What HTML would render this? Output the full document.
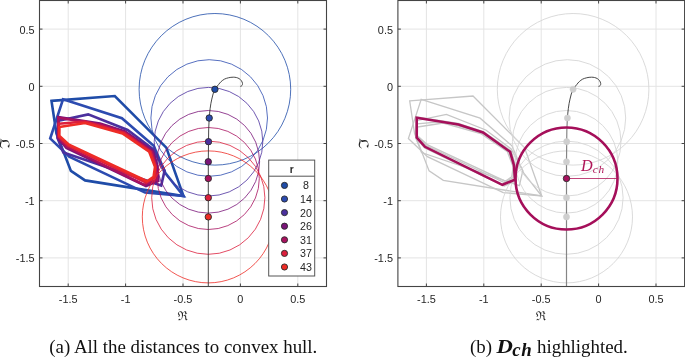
<!DOCTYPE html>
<html lang="en"><head><meta charset="utf-8"><title>Distances to convex hull</title>
<style>
html,body{margin:0;padding:0;background:#fff;}
body{width:685px;height:359px;overflow:hidden;}
svg{display:block;}
.tick{font-family:"Liberation Sans",Arial,sans-serif;font-size:10px;fill:#262626;}
.cap{font-family:"Liberation Serif","Times New Roman",serif;font-size:18.9px;fill:#111;}
.frak2{font-family:"DejaVu Math TeX Gyre","DejaVu Serif",serif;font-size:12px;fill:#222;}
.frak{font-family:"DejaVu Math TeX Gyre","DejaVu Serif",serif;font-size:11px;fill:#262626;}
</style></head><body>
<svg width="685" height="359" viewBox="0 0 685 359">
<rect x="0" y="0" width="685" height="359" fill="#fff"/>
<defs>
<clipPath id="cl"><rect x="39.5" y="0" width="287" height="286.5"/></clipPath>
<clipPath id="cr"><rect x="397.9" y="0" width="286.7" height="286.5"/></clipPath>
</defs>
<!-- left panel -->
<line x1="68.2" y1="0.5" x2="68.2" y2="286.5" stroke="#e4e4e4" stroke-width="1"/>
<line x1="125.6" y1="0.5" x2="125.6" y2="286.5" stroke="#e4e4e4" stroke-width="1"/>
<line x1="183.0" y1="0.5" x2="183.0" y2="286.5" stroke="#e4e4e4" stroke-width="1"/>
<line x1="240.4" y1="0.5" x2="240.4" y2="286.5" stroke="#e4e4e4" stroke-width="1"/>
<line x1="297.8" y1="0.5" x2="297.8" y2="286.5" stroke="#e4e4e4" stroke-width="1"/>
<line x1="39.5" y1="29.1" x2="326.5" y2="29.1" stroke="#e4e4e4" stroke-width="1"/>
<line x1="39.5" y1="86.3" x2="326.5" y2="86.3" stroke="#e4e4e4" stroke-width="1"/>
<line x1="39.5" y1="143.5" x2="326.5" y2="143.5" stroke="#e4e4e4" stroke-width="1"/>
<line x1="39.5" y1="200.7" x2="326.5" y2="200.7" stroke="#e4e4e4" stroke-width="1"/>
<line x1="39.5" y1="257.9" x2="326.5" y2="257.9" stroke="#e4e4e4" stroke-width="1"/>
<g clip-path="url(#cl)" fill="none">
<polygon points="51.5,100.9 114.8,96.0 166.3,147.6 183.5,196.0 85.1,180.4 70.9,170.9 62.8,150.0 56.4,133.5" stroke="#1F4CA8" stroke-width="2.6" stroke-linejoin="miter"/>
<polygon points="63.0,99.3 121.9,118.2 153.7,145.8 165.4,173.0 183.5,196.0 145.0,192.6 69.2,156.7 50.2,138.5" stroke="#2C4BB0" stroke-width="2.6" stroke-linejoin="miter"/>
<polygon points="58.5,120.7 88.2,114.4 127.6,130.0 153.0,149.0 164.6,170.6 161.2,185.6 63.3,152.5 57.5,138.0" stroke="#4B309E" stroke-width="2.6" stroke-linejoin="miter"/>
<polygon points="58.2,117.0 100.0,123.5 125.0,131.5 153.0,151.0 157.5,166.0 158.3,180.8 146.0,186.0 66.4,148.0 58.0,138.0" stroke="#7A1478" stroke-width="2.6" stroke-linejoin="miter"/>
<polygon points="58.5,117.8 100.3,124.4 124.8,132.5 151.9,151.8 155.7,165.0 156.8,179.6 144.2,184.8 66.8,146.8 58.5,137.5" stroke="#A8125F" stroke-width="2.6" stroke-linejoin="miter"/>
<polygon points="58.8,123.8 85.0,121.5 124.0,133.0 150.5,151.8 155.5,166.0 155.0,177.5 146.0,182.5 68.0,145.5 59.0,136.5" stroke="#DC1E3C" stroke-width="2.6" stroke-linejoin="miter"/>
<polygon points="59.4,127.0 85.0,123.0 122.5,133.5 149.2,151.8 155.0,166.9 153.6,176.7 147.0,181.2 69.0,144.6 59.2,135.7" stroke="#EE2C26" stroke-width="2.6" stroke-linejoin="miter"/>
<circle cx="214.9" cy="89.3" r="75.8" stroke="#1F4CA8" stroke-width="0.8"/>
<circle cx="209.2" cy="118.0" r="58.3" stroke="#2C4BB0" stroke-width="0.8"/>
<circle cx="208.5" cy="141.7" r="54.3" stroke="#4B309E" stroke-width="0.8"/>
<circle cx="208.3" cy="161.8" r="51.3" stroke="#7A1478" stroke-width="0.8"/>
<circle cx="208.3" cy="178.5" r="51.0" stroke="#A8125F" stroke-width="0.8"/>
<circle cx="208.3" cy="197.7" r="56.6" stroke="#DC1E3C" stroke-width="0.8"/>
<circle cx="208.3" cy="216.9" r="66.0" stroke="#EE2C26" stroke-width="0.8"/>
<path d="M240.3 86.4 C241.8 86.2 242.7 85.0 242.5 83.5 C242.2 81.5 241.0 79.8 239.1 78.6 C237.4 77.6 235.4 77.2 233.3 77.2 C230.0 77.2 227.0 78.0 224.5 79.1 C222.0 80.5 220.0 82.5 218.6 84.5 C217.2 86.0 216.0 87.6 214.9 89.3 C213.4 92.3 212.6 95.5 211.8 99.1 C210.4 105.0 209.7 111.5 209.2 118.0 C208.7 126.0 208.5 134.0 208.5 141.7 L208.3 161.8 L208.3 286.5" stroke="#333" stroke-width="0.9"/>
<circle cx="214.9" cy="89.3" r="3.2" fill="#1F4CA8" stroke="#2a2a2a" stroke-width="0.9"/>
<circle cx="209.2" cy="118.0" r="3.2" fill="#2C4BB0" stroke="#2a2a2a" stroke-width="0.9"/>
<circle cx="208.5" cy="141.7" r="3.2" fill="#4B309E" stroke="#2a2a2a" stroke-width="0.9"/>
<circle cx="208.3" cy="161.8" r="3.2" fill="#7A1478" stroke="#2a2a2a" stroke-width="0.9"/>
<circle cx="208.3" cy="178.5" r="3.2" fill="#A8125F" stroke="#2a2a2a" stroke-width="0.9"/>
<circle cx="208.3" cy="197.7" r="3.2" fill="#DC1E3C" stroke="#2a2a2a" stroke-width="0.9"/>
<circle cx="208.3" cy="216.9" r="3.2" fill="#EE2C26" stroke="#2a2a2a" stroke-width="0.9"/>
</g>
<rect x="39.5" y="0.5" width="287.0" height="286.0" fill="none" stroke="#444" stroke-width="1.1"/>
<line x1="68.2" y1="286.5" x2="68.2" y2="283.5" stroke="#444" stroke-width="1"/>
<line x1="68.2" y1="0.5" x2="68.2" y2="3.5" stroke="#444" stroke-width="1"/>
<text class="tick" transform="translate(68.2,303.2) scale(1.09,1)" text-anchor="middle">-1.5</text>
<line x1="125.6" y1="286.5" x2="125.6" y2="283.5" stroke="#444" stroke-width="1"/>
<line x1="125.6" y1="0.5" x2="125.6" y2="3.5" stroke="#444" stroke-width="1"/>
<text class="tick" transform="translate(125.6,303.2) scale(1.09,1)" text-anchor="middle">-1</text>
<line x1="183.0" y1="286.5" x2="183.0" y2="283.5" stroke="#444" stroke-width="1"/>
<line x1="183.0" y1="0.5" x2="183.0" y2="3.5" stroke="#444" stroke-width="1"/>
<text class="tick" transform="translate(183.0,303.2) scale(1.09,1)" text-anchor="middle">-0.5</text>
<line x1="240.4" y1="286.5" x2="240.4" y2="283.5" stroke="#444" stroke-width="1"/>
<line x1="240.4" y1="0.5" x2="240.4" y2="3.5" stroke="#444" stroke-width="1"/>
<text class="tick" transform="translate(240.4,303.2) scale(1.09,1)" text-anchor="middle">0</text>
<line x1="297.8" y1="286.5" x2="297.8" y2="283.5" stroke="#444" stroke-width="1"/>
<line x1="297.8" y1="0.5" x2="297.8" y2="3.5" stroke="#444" stroke-width="1"/>
<text class="tick" transform="translate(297.8,303.2) scale(1.09,1)" text-anchor="middle">0.5</text>
<line x1="39.5" y1="29.1" x2="42.5" y2="29.1" stroke="#444" stroke-width="1"/>
<line x1="326.5" y1="29.1" x2="323.5" y2="29.1" stroke="#444" stroke-width="1"/>
<text class="tick" transform="translate(34.6,33.6) scale(1.09,1)" text-anchor="end">0.5</text>
<line x1="39.5" y1="86.3" x2="42.5" y2="86.3" stroke="#444" stroke-width="1"/>
<line x1="326.5" y1="86.3" x2="323.5" y2="86.3" stroke="#444" stroke-width="1"/>
<text class="tick" transform="translate(34.6,90.8) scale(1.09,1)" text-anchor="end">0</text>
<line x1="39.5" y1="143.5" x2="42.5" y2="143.5" stroke="#444" stroke-width="1"/>
<line x1="326.5" y1="143.5" x2="323.5" y2="143.5" stroke="#444" stroke-width="1"/>
<text class="tick" transform="translate(34.6,148.0) scale(1.09,1)" text-anchor="end">-0.5</text>
<line x1="39.5" y1="200.7" x2="42.5" y2="200.7" stroke="#444" stroke-width="1"/>
<line x1="326.5" y1="200.7" x2="323.5" y2="200.7" stroke="#444" stroke-width="1"/>
<text class="tick" transform="translate(34.6,205.2) scale(1.09,1)" text-anchor="end">-1</text>
<line x1="39.5" y1="257.9" x2="42.5" y2="257.9" stroke="#444" stroke-width="1"/>
<line x1="326.5" y1="257.9" x2="323.5" y2="257.9" stroke="#444" stroke-width="1"/>
<text class="tick" transform="translate(34.6,262.4) scale(1.09,1)" text-anchor="end">-1.5</text>
<rect x="268.7" y="160.1" width="46" height="115.9" fill="#fff" stroke="#555" stroke-width="1"/>
<line x1="268.7" y1="176.2" x2="314.7" y2="176.2" stroke="#555" stroke-width="1"/>
<text class="tick" x="291.6" y="172.6" text-anchor="middle" font-weight="bold">r</text>
<circle cx="284.5" cy="185.4" r="3.1" fill="#1F4CA8" stroke="#2a2a2a" stroke-width="0.9"/>
<text class="tick" transform="translate(305.9,189.3) scale(1.07,1)" text-anchor="middle">8</text>
<circle cx="284.5" cy="199.0" r="3.1" fill="#2C4BB0" stroke="#2a2a2a" stroke-width="0.9"/>
<text class="tick" transform="translate(305.9,202.9) scale(1.07,1)" text-anchor="middle">14</text>
<circle cx="284.5" cy="212.6" r="3.1" fill="#4B309E" stroke="#2a2a2a" stroke-width="0.9"/>
<text class="tick" transform="translate(305.9,216.5) scale(1.07,1)" text-anchor="middle">20</text>
<circle cx="284.5" cy="226.2" r="3.1" fill="#7A1478" stroke="#2a2a2a" stroke-width="0.9"/>
<text class="tick" transform="translate(305.9,230.1) scale(1.07,1)" text-anchor="middle">26</text>
<circle cx="284.5" cy="239.8" r="3.1" fill="#A8125F" stroke="#2a2a2a" stroke-width="0.9"/>
<text class="tick" transform="translate(305.9,243.7) scale(1.07,1)" text-anchor="middle">31</text>
<circle cx="284.5" cy="253.4" r="3.1" fill="#DC1E3C" stroke="#2a2a2a" stroke-width="0.9"/>
<text class="tick" transform="translate(305.9,257.3) scale(1.07,1)" text-anchor="middle">37</text>
<circle cx="284.5" cy="267.0" r="3.1" fill="#EE2C26" stroke="#2a2a2a" stroke-width="0.9"/>
<text class="tick" transform="translate(305.9,270.9) scale(1.07,1)" text-anchor="middle">43</text>
<text class="frak" x="183" y="320.3" font-size="11.8px" text-anchor="middle">&#x211C;</text>
<text class="frak2" transform="translate(9.4,143.6) rotate(-90) scale(1.45,1)" text-anchor="middle">&#x2111;</text>
<text class="cap" x="183.3" y="353" text-anchor="middle">(a) All the distances to convex hull.</text>
<!-- right panel -->
<line x1="426.4" y1="0.5" x2="426.4" y2="286.5" stroke="#e4e4e4" stroke-width="1"/>
<line x1="483.8" y1="0.5" x2="483.8" y2="286.5" stroke="#e4e4e4" stroke-width="1"/>
<line x1="541.2" y1="0.5" x2="541.2" y2="286.5" stroke="#e4e4e4" stroke-width="1"/>
<line x1="598.6" y1="0.5" x2="598.6" y2="286.5" stroke="#e4e4e4" stroke-width="1"/>
<line x1="656.0" y1="0.5" x2="656.0" y2="286.5" stroke="#e4e4e4" stroke-width="1"/>
<line x1="397.9" y1="29.1" x2="684.6" y2="29.1" stroke="#e4e4e4" stroke-width="1"/>
<line x1="397.9" y1="86.3" x2="684.6" y2="86.3" stroke="#e4e4e4" stroke-width="1"/>
<line x1="397.9" y1="143.5" x2="684.6" y2="143.5" stroke="#e4e4e4" stroke-width="1"/>
<line x1="397.9" y1="200.7" x2="684.6" y2="200.7" stroke="#e4e4e4" stroke-width="1"/>
<line x1="397.9" y1="257.9" x2="684.6" y2="257.9" stroke="#e4e4e4" stroke-width="1"/>
<g clip-path="url(#cr)" fill="none">
<polygon points="409.7,100.9 473.0,96.0 524.5,147.6 541.7,196.0 443.3,180.4 429.1,170.9 421.0,150.0 414.6,133.5" stroke="#c6c6c6" stroke-width="1.3"/>
<polygon points="421.2,99.3 480.1,118.2 511.9,145.8 523.6,173.0 541.7,196.0 503.2,192.6 427.4,156.7 408.4,138.5" stroke="#c6c6c6" stroke-width="1.3"/>
<polygon points="416.7,120.7 446.4,114.4 485.8,130.0 511.2,149.0 522.8,170.6 519.4,185.6 421.5,152.5 415.7,138.0" stroke="#c6c6c6" stroke-width="1.3"/>
<polygon points="416.4,117.0 458.2,123.5 483.2,131.5 511.2,151.0 515.7,166.0 516.5,180.8 504.2,186.0 424.6,148.0 416.2,138.0" stroke="#c6c6c6" stroke-width="1.3"/>
<polygon points="417.0,123.8 443.2,121.5 482.2,133.0 508.7,151.8 513.7,166.0 513.2,177.5 504.2,182.5 426.2,145.5 417.2,136.5" stroke="#c6c6c6" stroke-width="1.3"/>
<polygon points="417.6,127.0 443.2,123.0 480.7,133.5 507.4,151.8 513.2,166.9 511.8,176.7 505.2,181.2 427.2,144.6 417.4,135.7" stroke="#c6c6c6" stroke-width="1.3"/>
<circle cx="573.1" cy="89.3" r="75.8" stroke="#d6d6d6" stroke-width="0.9"/>
<circle cx="567.4" cy="118.0" r="58.3" stroke="#d6d6d6" stroke-width="0.9"/>
<circle cx="566.7" cy="141.7" r="54.3" stroke="#d6d6d6" stroke-width="0.9"/>
<circle cx="566.5" cy="161.8" r="51.3" stroke="#d6d6d6" stroke-width="0.9"/>
<circle cx="566.5" cy="197.7" r="56.6" stroke="#d6d6d6" stroke-width="0.9"/>
<circle cx="566.5" cy="216.9" r="66.0" stroke="#d6d6d6" stroke-width="0.9"/>
<path d="M209.2 118.0 C208.7 126.0 208.5 134.0 208.5 141.7 L208.3 161.8 L208.3 286.5" stroke="#858585" stroke-width="1.2" transform="translate(358.2,0)"/>
<path d="M240.3 86.4 C241.8 86.2 242.7 85.0 242.5 83.5 C242.2 81.5 241.0 79.8 239.1 78.6 C237.4 77.6 235.4 77.2 233.3 77.2 C230.0 77.2 227.0 78.0 224.5 79.1 C222.0 80.5 220.0 82.5 218.6 84.5 C217.2 86.0 216.0 87.6 214.9 89.3 C213.4 92.3 212.6 95.5 211.8 99.1 C210.4 105.0 209.7 111.5 209.2 118.0 " stroke="#333" stroke-width="0.9" transform="translate(358.2,0)"/>
<circle cx="573.1" cy="89.3" r="3.1" fill="#cfcfcf" stroke="#cfcfcf" stroke-width="0.5"/>
<circle cx="567.4" cy="118.0" r="3.1" fill="#cfcfcf" stroke="#cfcfcf" stroke-width="0.5"/>
<circle cx="566.7" cy="141.7" r="3.1" fill="#cfcfcf" stroke="#cfcfcf" stroke-width="0.5"/>
<circle cx="566.5" cy="161.8" r="3.1" fill="#cfcfcf" stroke="#cfcfcf" stroke-width="0.5"/>
<circle cx="566.5" cy="197.7" r="3.1" fill="#cfcfcf" stroke="#cfcfcf" stroke-width="0.5"/>
<circle cx="566.5" cy="216.9" r="3.1" fill="#cfcfcf" stroke="#cfcfcf" stroke-width="0.5"/>
<polygon points="416.7,117.8 458.5,124.4 483.0,132.5 510.1,151.8 513.9,165.0 515.0,179.6 502.4,184.8 425.0,146.8 416.7,137.5" stroke="#A50F5A" stroke-width="2.6" stroke-linejoin="miter"/>
<circle cx="566.5" cy="178.5" r="51.0" stroke="#A50F5A" stroke-width="2.6"/>
<line x1="566.5" y1="178.5" x2="617.5" y2="178.5" stroke="#B01558" stroke-width="0.8"/>
<circle cx="566.5" cy="178.5" r="3.2" fill="#A8125F" stroke="#2a2a2a" stroke-width="0.9"/>
</g>
<text x="581" y="170.7" font-family="&quot;Liberation Serif&quot;,serif" font-style="italic" font-size="16.2px" fill="#B01558">D<tspan font-size="11.3px" dy="2.2" letter-spacing="0.7">ch</tspan></text>
<rect x="397.9" y="0.5" width="286.7" height="286.0" fill="none" stroke="#444" stroke-width="1.1"/>
<line x1="426.4" y1="286.5" x2="426.4" y2="283.5" stroke="#444" stroke-width="1"/>
<line x1="426.4" y1="0.5" x2="426.4" y2="3.5" stroke="#444" stroke-width="1"/>
<text class="tick" transform="translate(426.4,303.2) scale(1.09,1)" text-anchor="middle">-1.5</text>
<line x1="483.8" y1="286.5" x2="483.8" y2="283.5" stroke="#444" stroke-width="1"/>
<line x1="483.8" y1="0.5" x2="483.8" y2="3.5" stroke="#444" stroke-width="1"/>
<text class="tick" transform="translate(483.8,303.2) scale(1.09,1)" text-anchor="middle">-1</text>
<line x1="541.2" y1="286.5" x2="541.2" y2="283.5" stroke="#444" stroke-width="1"/>
<line x1="541.2" y1="0.5" x2="541.2" y2="3.5" stroke="#444" stroke-width="1"/>
<text class="tick" transform="translate(541.2,303.2) scale(1.09,1)" text-anchor="middle">-0.5</text>
<line x1="598.6" y1="286.5" x2="598.6" y2="283.5" stroke="#444" stroke-width="1"/>
<line x1="598.6" y1="0.5" x2="598.6" y2="3.5" stroke="#444" stroke-width="1"/>
<text class="tick" transform="translate(598.6,303.2) scale(1.09,1)" text-anchor="middle">0</text>
<line x1="656.0" y1="286.5" x2="656.0" y2="283.5" stroke="#444" stroke-width="1"/>
<line x1="656.0" y1="0.5" x2="656.0" y2="3.5" stroke="#444" stroke-width="1"/>
<text class="tick" transform="translate(656.0,303.2) scale(1.09,1)" text-anchor="middle">0.5</text>
<line x1="397.9" y1="29.1" x2="400.9" y2="29.1" stroke="#444" stroke-width="1"/>
<line x1="684.6" y1="29.1" x2="681.6" y2="29.1" stroke="#444" stroke-width="1"/>
<text class="tick" transform="translate(393.0,33.6) scale(1.09,1)" text-anchor="end">0.5</text>
<line x1="397.9" y1="86.3" x2="400.9" y2="86.3" stroke="#444" stroke-width="1"/>
<line x1="684.6" y1="86.3" x2="681.6" y2="86.3" stroke="#444" stroke-width="1"/>
<text class="tick" transform="translate(393.0,90.8) scale(1.09,1)" text-anchor="end">0</text>
<line x1="397.9" y1="143.5" x2="400.9" y2="143.5" stroke="#444" stroke-width="1"/>
<line x1="684.6" y1="143.5" x2="681.6" y2="143.5" stroke="#444" stroke-width="1"/>
<text class="tick" transform="translate(393.0,148.0) scale(1.09,1)" text-anchor="end">-0.5</text>
<line x1="397.9" y1="200.7" x2="400.9" y2="200.7" stroke="#444" stroke-width="1"/>
<line x1="684.6" y1="200.7" x2="681.6" y2="200.7" stroke="#444" stroke-width="1"/>
<text class="tick" transform="translate(393.0,205.2) scale(1.09,1)" text-anchor="end">-1</text>
<line x1="397.9" y1="257.9" x2="400.9" y2="257.9" stroke="#444" stroke-width="1"/>
<line x1="684.6" y1="257.9" x2="681.6" y2="257.9" stroke="#444" stroke-width="1"/>
<text class="tick" transform="translate(393.0,262.4) scale(1.09,1)" text-anchor="end">-1.5</text>
<text class="frak" x="541.2" y="320.3" font-size="11.8px" text-anchor="middle">&#x211C;</text>
<text class="frak2" transform="translate(367.7,143.6) rotate(-90) scale(1.45,1)" text-anchor="middle">&#x2111;</text>
<text class="cap" x="470" y="353">(b)</text>
<text class="cap" transform="translate(496.6,353) scale(1.2,1)" font-style="italic" font-weight="bold" font-size="16.3px">D</text>
<text class="cap" transform="translate(512.3,355.5)" font-style="italic" font-weight="bold" font-size="12px" letter-spacing="0.6">ch</text>
<text class="cap" x="537" y="353">highlighted.</text>
</svg>
</body></html>
